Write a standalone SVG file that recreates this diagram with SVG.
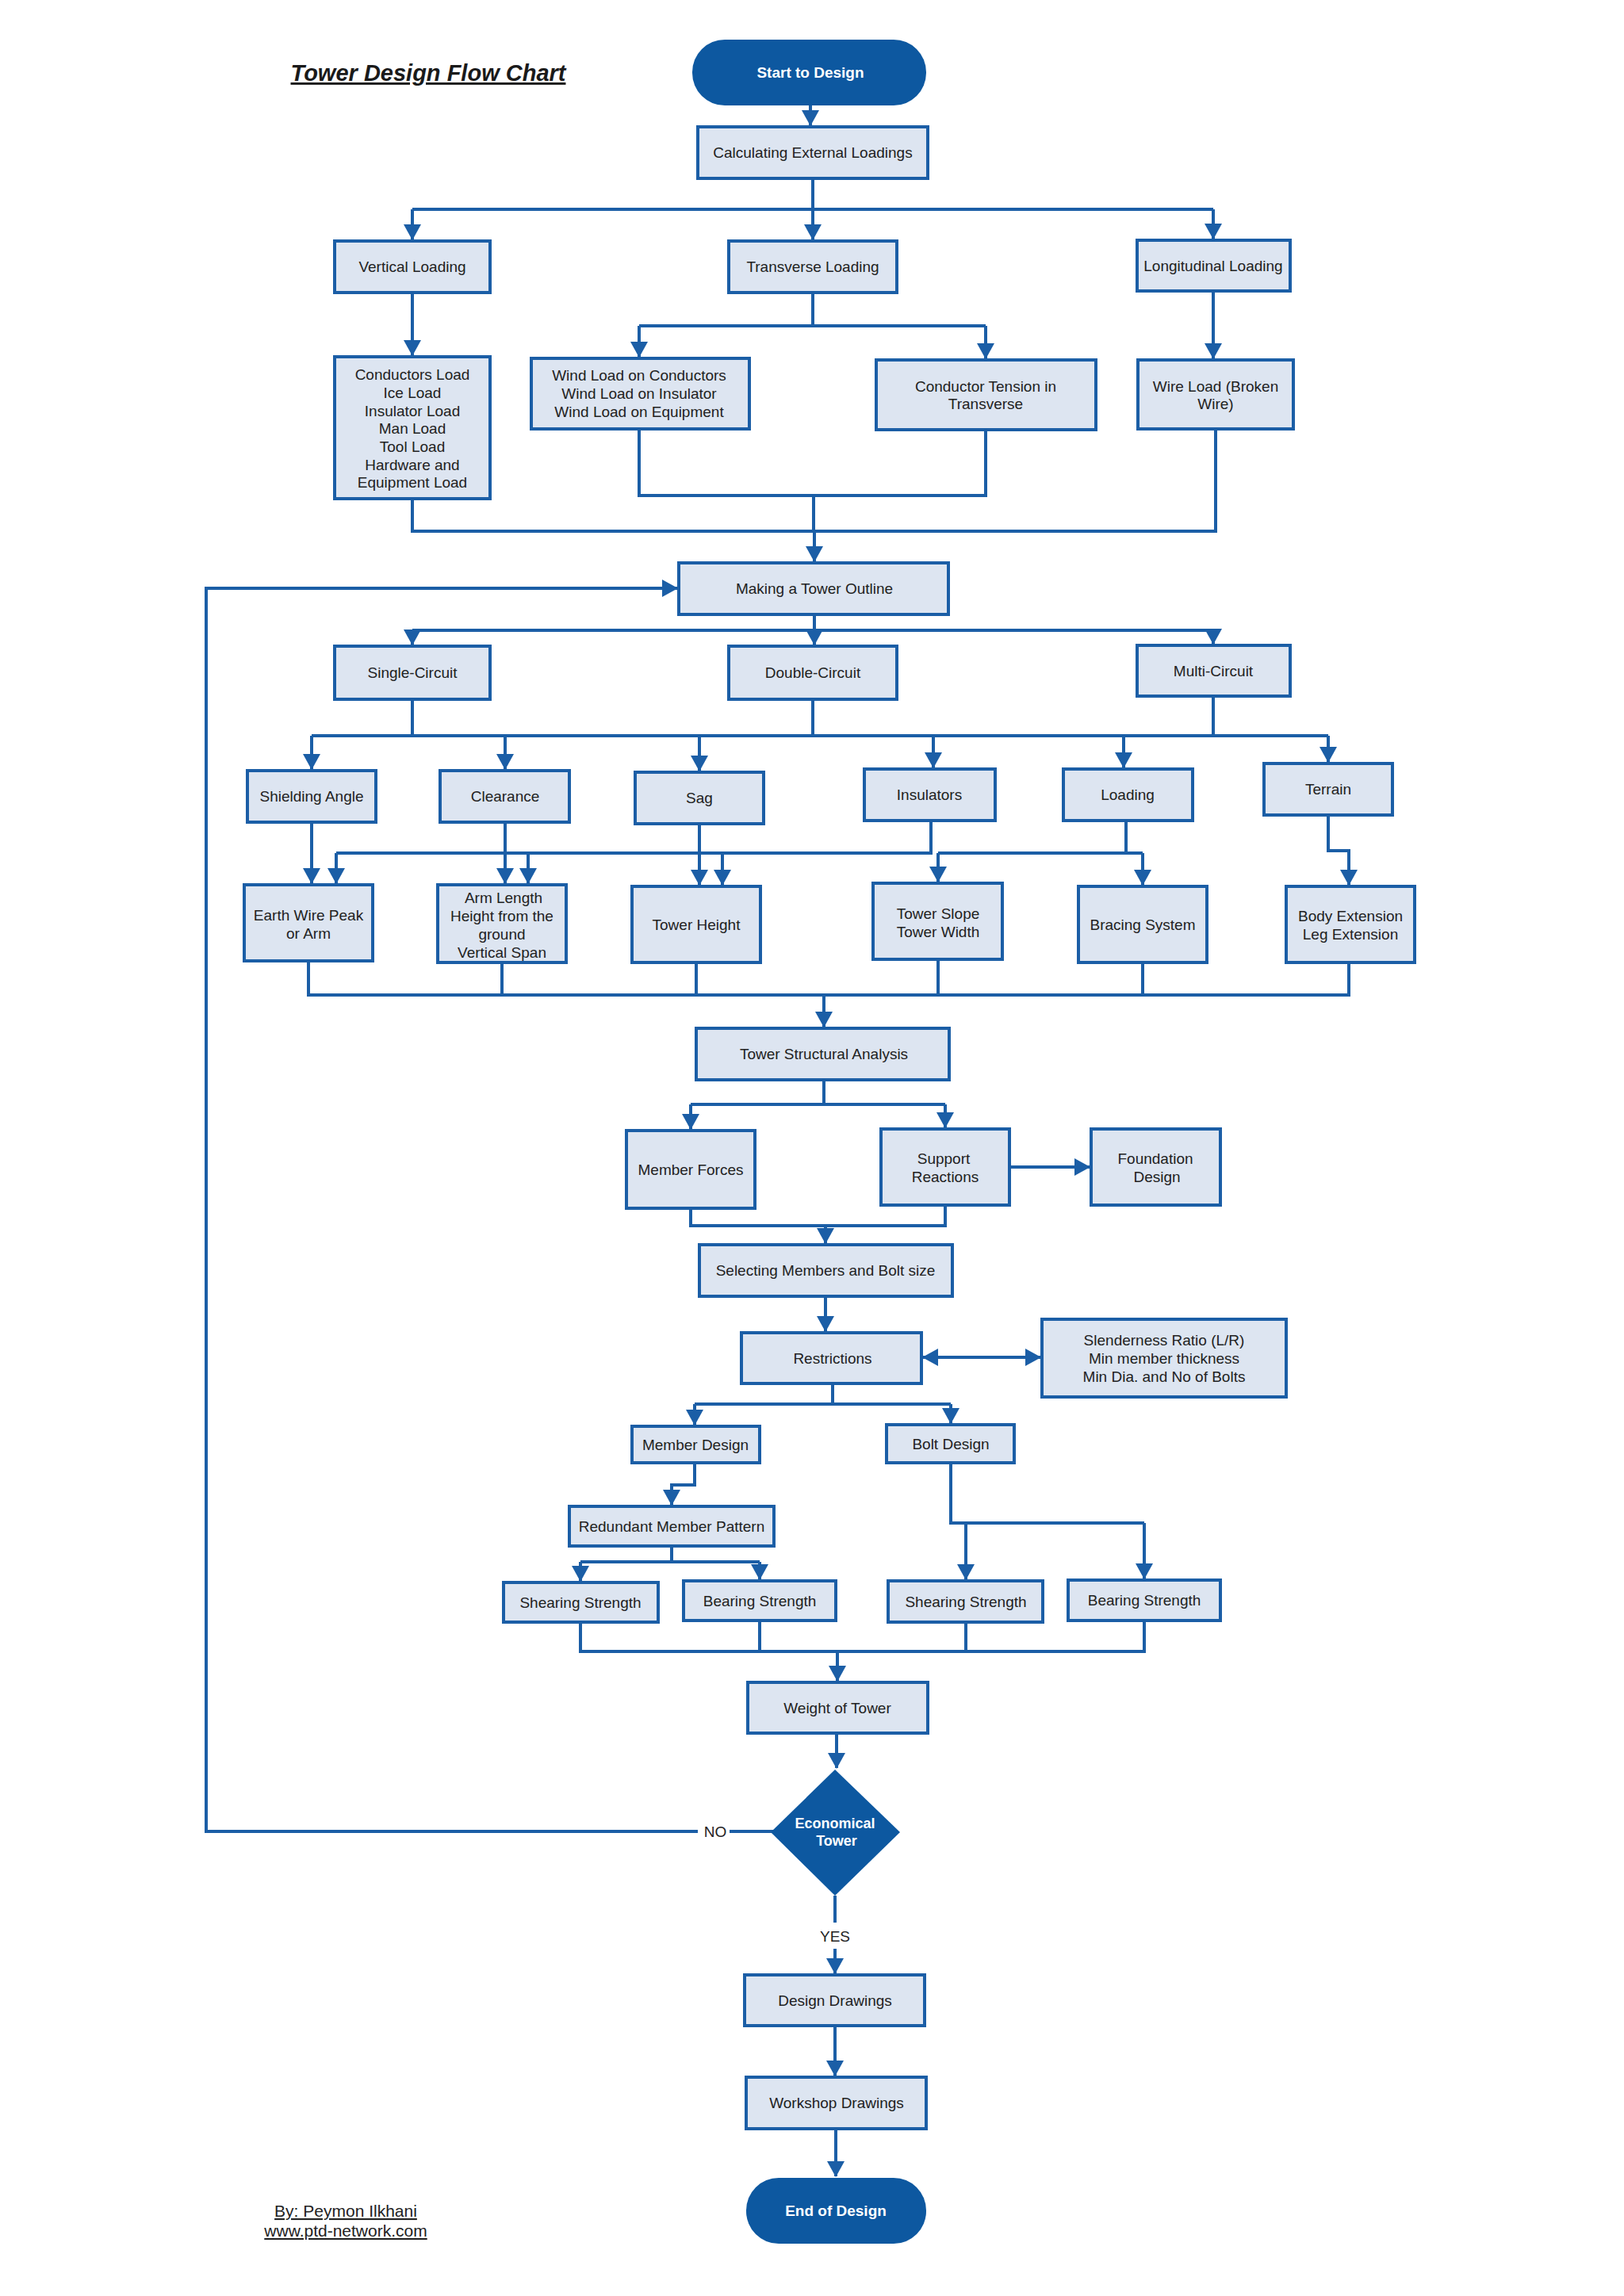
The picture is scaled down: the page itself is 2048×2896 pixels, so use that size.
<svg xmlns="http://www.w3.org/2000/svg" width="2048" height="2896" viewBox="0 0 2048 2896">
<defs>
<marker id="ah" markerWidth="10" markerHeight="10" refX="9" refY="5" orient="auto" markerUnits="userSpaceOnUse" viewBox="0 0 10 10"><path d="M0,0 L10,5 L0,10 z" fill="#1b5ea6"/></marker>
<style>
.b{fill:#dde5f1;stroke:#1b5ea6;stroke-width:4}
.p{fill:#0d58a0}
.t{font-family:"Liberation Sans",Arial,sans-serif;font-size:19px;fill:#222;text-anchor:middle}
.w{font-family:"Liberation Sans",Arial,sans-serif;font-size:19px;fill:#fff;text-anchor:middle;font-weight:bold}
.c path{fill:none;stroke:#1b5ea6;stroke-width:4}
.a{marker-end:url(#ah)}
</style>
</defs>
<marker id="ah2" markerWidth="20" markerHeight="22" refX="19" refY="11" orient="auto" markerUnits="userSpaceOnUse" viewBox="0 0 20 22"><path d="M0,0 L20,11 L0,22 z" fill="#1b5ea6"/></marker>
<rect width="2048" height="2896" fill="#fff"/>
<text x="540" y="102" style="font-family:'Liberation Sans',Arial,sans-serif;font-size:29px;font-weight:bold;font-style:italic;text-decoration:underline;text-anchor:middle;fill:#1a1a1a">Tower Design Flow Chart</text>
<g class="c">
<path style="marker-end:url(#ah2)" d="M1022,133V158"/>
<path d="M1025,225V264M520,264H1530"/>
<path style="marker-end:url(#ah2)" d="M520,264V302"/><path style="marker-end:url(#ah2)" d="M1025,264V302"/><path style="marker-end:url(#ah2)" d="M1530,264V301"/>
<path style="marker-end:url(#ah2)" d="M520,369V448"/>
<path d="M1025,369V411M806,411H1243"/>
<path style="marker-end:url(#ah2)" d="M806,411V450"/><path style="marker-end:url(#ah2)" d="M1243,411V452"/>
<path style="marker-end:url(#ah2)" d="M1530,367V452"/>
<path d="M806,541V625H1243V542M1026,625V670M520,629V670H1533V541"/>
<path style="marker-end:url(#ah2)" d="M1027,670V708"/>
<path style="marker-end:url(#ah2)" d="M1035,2310H260V742H854"/>
<path d="M1027,775V795M520,795H1530"/>
<path style="marker-end:url(#ah2)" d="M520,795V813"/><path style="marker-end:url(#ah2)" d="M1027,795V813"/><path style="marker-end:url(#ah2)" d="M1530,795V812"/>
<path d="M520,882V928M1025,882V928M1530,878V928M393,928H1675"/>
<path style="marker-end:url(#ah2)" d="M393,928V970"/><path style="marker-end:url(#ah2)" d="M637,928V970"/><path style="marker-end:url(#ah2)" d="M882,928V972"/><path style="marker-end:url(#ah2)" d="M1177,928V968"/><path style="marker-end:url(#ah2)" d="M1417,928V968"/><path style="marker-end:url(#ah2)" d="M1675,928V961"/>
<path style="marker-end:url(#ah2)" d="M393,1037V1114"/><path style="marker-end:url(#ah2)" d="M637,1037V1114"/><path style="marker-end:url(#ah2)" d="M882,1039V1116"/>
<path d="M1174,1035V1076H424"/>
<path style="marker-end:url(#ah2)" d="M424,1076V1114"/><path style="marker-end:url(#ah2)" d="M666,1076V1114"/><path style="marker-end:url(#ah2)" d="M911,1076V1116"/>
<path d="M1420,1035V1076M1183,1076H1441"/>
<path style="marker-end:url(#ah2)" d="M1183,1076V1112"/><path style="marker-end:url(#ah2)" d="M1441,1076V1116"/>
<path style="marker-end:url(#ah2)" d="M1675,1028V1073H1701V1116"/>
<path d="M389,1212V1255H1701V1214M633,1214V1255M878,1214V1255M1183,1210V1255M1441,1214V1255"/>
<path style="marker-end:url(#ah2)" d="M1039,1255V1295"/>
<path d="M1039,1362V1393M871,1393H1192"/>
<path style="marker-end:url(#ah2)" d="M871,1393V1424"/><path style="marker-end:url(#ah2)" d="M1192,1393V1422"/>
<path style="marker-end:url(#ah2)" d="M1273,1472H1374"/>
<path d="M871,1524V1546H1192V1520"/>
<path style="marker-end:url(#ah2)" d="M1041,1546V1568"/>
<path style="marker-end:url(#ah2)" d="M1041,1635V1679"/>
<path style="marker-end:url(#ah2)" d="M1240,1712H1312"/><path style="marker-end:url(#ah2)" d="M1240,1712H1164"/>
<path d="M1050,1745V1771M876,1771H1199"/>
<path style="marker-end:url(#ah2)" d="M876,1771V1797"/><path style="marker-end:url(#ah2)" d="M1199,1771V1795"/>
<path style="marker-end:url(#ah2)" d="M876,1845V1873H847V1898"/>
<path d="M847,1950V1970M732,1970H958"/>
<path style="marker-end:url(#ah2)" d="M732,1970V1994"/><path style="marker-end:url(#ah2)" d="M958,1970V1992"/>
<path d="M1199,1845V1921H1443"/>
<path style="marker-end:url(#ah2)" d="M1218,1921V1992"/><path style="marker-end:url(#ah2)" d="M1443,1921V1991"/>
<path d="M732,2046V2083H1443V2044M958,2044V2083M1218,2046V2083"/>
<path style="marker-end:url(#ah2)" d="M1056,2083V2120"/>
<path style="marker-end:url(#ah2)" d="M1055,2186V2230"/>
<path d="M1053,2391V2425"/>
<path style="marker-end:url(#ah2)" d="M1053,2458V2489"/>
<path style="marker-end:url(#ah2)" d="M1053,2555V2618"/>
<path style="marker-end:url(#ah2)" d="M1054,2685V2745"/>
</g>
<rect x="880" y="2296" width="40" height="28" fill="#fff"/>
<text class="t" x="902" y="2317">NO</text>
<text class="t" x="1053" y="2449">YES</text>
<g id="start"><rect class="p" x="873" y="50" width="295" height="83" rx="41"/><text class="w" x="1022" y="98">Start to Design</text></g>
<g id="calc"><rect class="b" x="880" y="160" width="290" height="65"/><text class="t" x="1025" y="199">Calculating External Loadings</text></g>
<g id="vert"><rect class="b" x="422" y="304" width="196" height="65"/><text class="t" x="520" y="343">Vertical Loading</text></g>
<g id="trans"><rect class="b" x="919" y="304" width="212" height="65"/><text class="t" x="1025" y="343">Transverse Loading</text></g>
<g id="long"><rect class="b" x="1434" y="303" width="193" height="64"/><text class="t" x="1530" y="342">Longitudinal Loading</text></g>
<g id="cond"><rect class="b" x="422" y="450" width="196" height="179"/><text class="t" x="520" y="479">Conductors Load</text><text class="t" x="520" y="502">Ice Load</text><text class="t" x="520" y="525">Insulator Load</text><text class="t" x="520" y="547">Man Load</text><text class="t" x="520" y="570">Tool Load</text><text class="t" x="520" y="593">Hardware and</text><text class="t" x="520" y="615">Equipment Load</text></g>
<g id="wind"><rect class="b" x="670" y="452" width="275" height="89"/><text class="t" x="806" y="480">Wind Load on Conductors</text><text class="t" x="806" y="503">Wind Load on Insulator</text><text class="t" x="806" y="526">Wind Load on Equipment</text></g>
<g id="tension"><rect class="b" x="1105" y="454" width="277" height="88"/><text class="t" x="1243" y="494">Conductor Tension in</text><text class="t" x="1243" y="516">Transverse</text></g>
<g id="wire"><rect class="b" x="1435" y="454" width="196" height="87"/><text class="t" x="1533" y="494">Wire Load (Broken</text><text class="t" x="1533" y="516">Wire)</text></g>
<g id="outline"><rect class="b" x="856" y="710" width="340" height="65"/><text class="t" x="1027" y="749">Making a Tower Outline</text></g>
<g id="single"><rect class="b" x="422" y="815" width="196" height="67"/><text class="t" x="520" y="855">Single-Circuit</text></g>
<g id="double"><rect class="b" x="919" y="815" width="212" height="67"/><text class="t" x="1025" y="855">Double-Circuit</text></g>
<g id="multi"><rect class="b" x="1434" y="814" width="193" height="64"/><text class="t" x="1530" y="853">Multi-Circuit</text></g>
<g id="shield"><rect class="b" x="312" y="972" width="162" height="65"/><text class="t" x="393" y="1011">Shielding Angle</text></g>
<g id="clear"><rect class="b" x="555" y="972" width="163" height="65"/><text class="t" x="637" y="1011">Clearance</text></g>
<g id="sag"><rect class="b" x="801" y="974" width="162" height="65"/><text class="t" x="882" y="1013">Sag</text></g>
<g id="insul"><rect class="b" x="1090" y="970" width="165" height="65"/><text class="t" x="1172" y="1009">Insulators</text></g>
<g id="loading"><rect class="b" x="1341" y="970" width="163" height="65"/><text class="t" x="1422" y="1009">Loading</text></g>
<g id="terrain"><rect class="b" x="1594" y="963" width="162" height="65"/><text class="t" x="1675" y="1002">Terrain</text></g>
<g id="earth"><rect class="b" x="308" y="1116" width="162" height="96"/><text class="t" x="389" y="1161">Earth Wire Peak</text><text class="t" x="389" y="1184">or Arm</text></g>
<g id="arm"><rect class="b" x="552" y="1116" width="162" height="98"/><text class="t" x="635" y="1139">Arm Length</text><text class="t" x="633" y="1162">Height from the</text><text class="t" x="633" y="1185">ground</text><text class="t" x="633" y="1208">Vertical Span</text></g>
<g id="height"><rect class="b" x="797" y="1118" width="162" height="96"/><text class="t" x="878" y="1173">Tower Height</text></g>
<g id="slope"><rect class="b" x="1101" y="1114" width="163" height="96"/><text class="t" x="1183" y="1159">Tower Slope</text><text class="t" x="1183" y="1182">Tower Width</text></g>
<g id="bracing"><rect class="b" x="1360" y="1118" width="162" height="96"/><text class="t" x="1441" y="1173">Bracing System</text></g>
<g id="body"><rect class="b" x="1622" y="1118" width="162" height="96"/><text class="t" x="1703" y="1162">Body Extension</text><text class="t" x="1703" y="1185">Leg Extension</text></g>
<g id="analysis"><rect class="b" x="878" y="1297" width="319" height="65"/><text class="t" x="1039" y="1336">Tower Structural Analysis</text></g>
<g id="forces"><rect class="b" x="790" y="1426" width="162" height="98"/><text class="t" x="871" y="1482">Member Forces</text></g>
<g id="support"><rect class="b" x="1111" y="1424" width="162" height="96"/><text class="t" x="1190" y="1468">Support</text><text class="t" x="1192" y="1491">Reactions</text></g>
<g id="found"><rect class="b" x="1376" y="1424" width="163" height="96"/><text class="t" x="1457" y="1468">Foundation</text><text class="t" x="1459" y="1491">Design</text></g>
<g id="select"><rect class="b" x="882" y="1570" width="319" height="65"/><text class="t" x="1041" y="1609">Selecting Members and Bolt size</text></g>
<g id="restr"><rect class="b" x="935" y="1681" width="227" height="64"/><text class="t" x="1050" y="1720">Restrictions</text></g>
<g id="slender"><rect class="b" x="1314" y="1664" width="308" height="98"/><text class="t" x="1468" y="1697">Slenderness Ratio (L/R)</text><text class="t" x="1468" y="1720">Min member thickness</text><text class="t" x="1468" y="1743">Min Dia. and No of Bolts</text></g>
<g id="mdesign"><rect class="b" x="797" y="1799" width="161" height="46"/><text class="t" x="877" y="1829">Member Design</text></g>
<g id="bdesign"><rect class="b" x="1118" y="1797" width="161" height="48"/><text class="t" x="1199" y="1828">Bolt Design</text></g>
<g id="redund"><rect class="b" x="718" y="1900" width="258" height="50"/><text class="t" x="847" y="1932">Redundant Member Pattern</text></g>
<g id="shear1"><rect class="b" x="635" y="1996" width="195" height="50"/><text class="t" x="732" y="2028">Shearing Strength</text></g>
<g id="bear1"><rect class="b" x="862" y="1994" width="192" height="50"/><text class="t" x="958" y="2026">Bearing Strength</text></g>
<g id="shear2"><rect class="b" x="1120" y="1994" width="195" height="52"/><text class="t" x="1218" y="2027">Shearing Strength</text></g>
<g id="bear2"><rect class="b" x="1347" y="1993" width="192" height="51"/><text class="t" x="1443" y="2025">Bearing Strength</text></g>
<g id="weight"><rect class="b" x="943" y="2122" width="227" height="64"/><text class="t" x="1056" y="2161">Weight of Tower</text></g>
<g id="econ"><path class="p" d="M1053,2232L1135,2311L1053,2391L972,2311Z"/><text class="w" x="1053" y="2306" style="font-size:18px">Economical</text><text class="w" x="1055" y="2328" style="font-size:18px">Tower</text></g>
<g id="ddraw"><rect class="b" x="939" y="2491" width="227" height="64"/><text class="t" x="1053" y="2530">Design Drawings</text></g>
<g id="wdraw"><rect class="b" x="941" y="2620" width="227" height="65"/><text class="t" x="1055" y="2659">Workshop Drawings</text></g>
<g id="end"><rect class="p" x="941" y="2747" width="227" height="83" rx="41"/><text class="w" x="1054" y="2795">End of Design</text></g>
<text class="t" x="436" y="2796" style="text-decoration:underline;font-size:21px">By: Peymon Ilkhani</text>
<text class="t" x="436" y="2821" style="text-decoration:underline;font-size:21px">www.ptd-network.com</text>
</svg>
